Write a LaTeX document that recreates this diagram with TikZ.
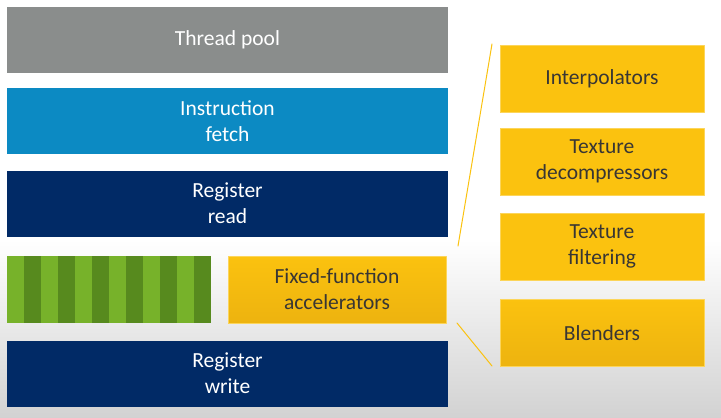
\documentclass[tikz,border=0pt]{standalone}
\usepackage{fontspec}
\setmainfont{Carlito}
\usetikzlibrary{positioning}
\definecolor{gpuGray}{HTML}{8A8D8C}
\definecolor{gpuBlue}{HTML}{0C8AC3}
\definecolor{gpuNavy}{HTML}{012A66}
\definecolor{gpuYellow}{HTML}{FBC20F}
\definecolor{gpuYellowLow}{HTML}{EDB30F}
\definecolor{gpuYellowEdge}{HTML}{FCD55A}
\definecolor{gpuInk}{HTML}{383634}
\definecolor{gpuGreenLight}{HTML}{77B22A}
\definecolor{gpuGreenDark}{HTML}{578A1E}
\definecolor{gpuFloor}{HTML}{D2D2D2}
\begin{document}
\begin{tikzpicture}[x=1pt,y=-1pt,line cap=round,line join=round]
\useasboundingbox (0,0) rectangle (721,418);
\fill[white] (0,0) rectangle (721,240);
\shade[top color=white,bottom color=gpuFloor] (0,240) rectangle (721,418);
\tikzset{stage/.style={minimum width=441pt,minimum height=66pt,inner sep=0pt,align=center,text=white,font=\fontsize{21.5}{26}\selectfont},unit/.style={shade,top color=gpuYellow,bottom color=gpuYellow,draw=gpuYellowEdge,line width=0.6pt,minimum width=204pt,minimum height=67pt,inner sep=0pt,align=center,text=gpuInk,font=\fontsize{21.5}{26}\selectfont},lowunit/.style={unit,bottom color=gpuYellowLow},zoomline/.style={draw=gpuYellow,line width=1pt}}
% pipeline stages
\node[stage,fill=gpuGray] (pool) at (227.5,40) {Thread pool};
\node[stage,fill=gpuBlue] (fetch) at (227.5,121) {Instruction\\fetch};
\node[stage,fill=gpuNavy] (read) at (227.5,203.5) {Register\\read};
\node[stage,fill=gpuNavy] (write) at (227.5,373.5) {Register\\write};
% ALU lanes
\foreach \k in {0,...,11}{
  \ifodd\k \fill[gpuGreenDark] (7+17*\k,256) rectangle (24+17*\k,323);
  \else \fill[gpuGreenLight] (7+17*\k,256) rectangle (24+17*\k,323); \fi}
\node[lowunit,minimum width=218pt] (fixed) at (337,289.5) {Fixed-function\\accelerators};
% accelerator list
\node[unit] (interp) at (602,78.5) {Interpolators};
\node[unit] (decomp) at (602,161.5) {Texture\\decompressors};
\node[unit] (filter) at (602,246.5) {Texture\\filtering};
\node[lowunit] (blend) at (602,333) {Blenders};
\coordinate (zoomA) at (458,246); \coordinate (zoomB) at (492,44);
\coordinate (zoomC) at (457,323); \coordinate (zoomD) at (492,366);
\draw[zoomline] (zoomA) -- (zoomB);
\draw[zoomline] (zoomC) -- (zoomD);
\end{tikzpicture}
\end{document}
